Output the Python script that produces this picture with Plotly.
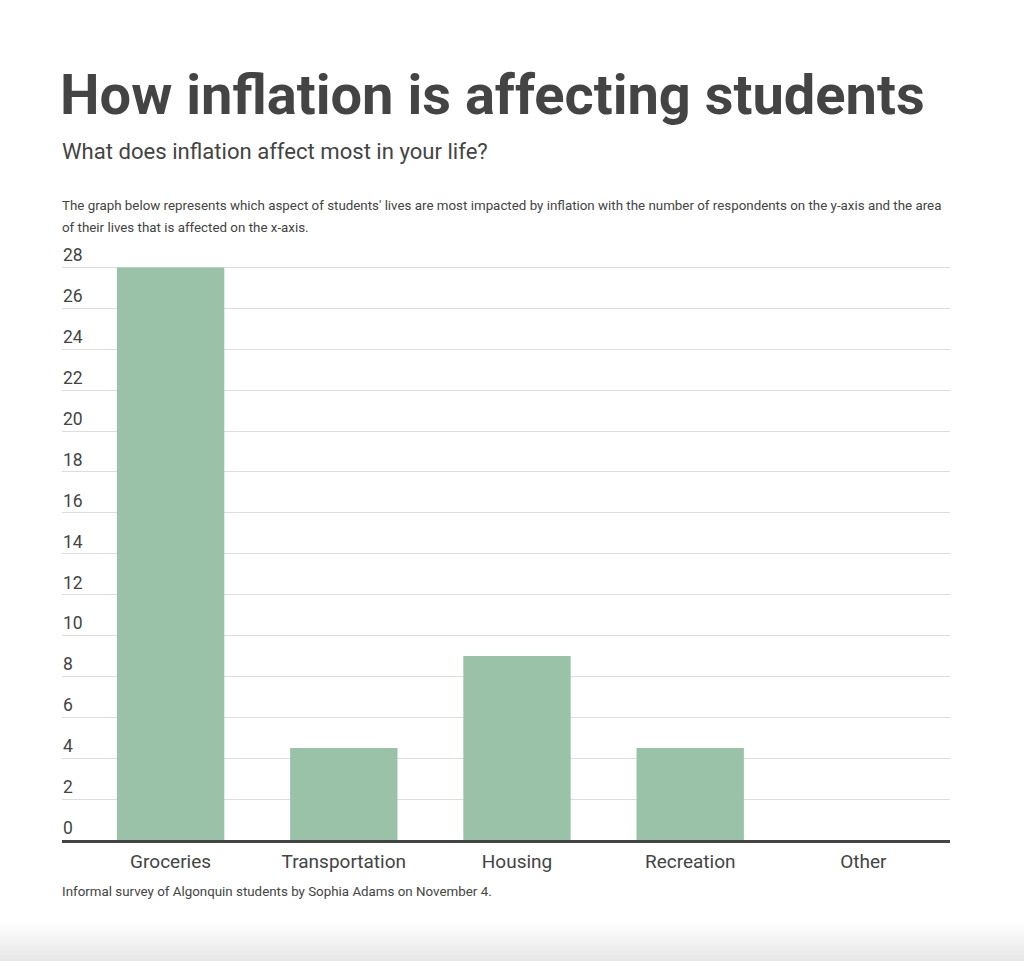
import plotly.graph_objects as go

categories = ["Groceries", "Transportation", "Housing", "Recreation", "Other"]
respondents = [28, 4.5, 9, 4.5, 0]
y_ticks = list(range(0, 30, 2))

title = "How inflation is affecting students"
subtitle = "What does inflation affect most in your life?"
desc1 = "The graph below represents which aspect of students' lives are most impacted by inflation with the number of respondents on the y-axis and the area"
desc2 = "of their lives that is affected on the x-axis."
footer = "Informal survey of Algonquin students by Sophia Adams on November 4."

W, H = 1024, 961
def px(x): return x / W
def py(y): return 1 - y / H

TEXT = "#444444"
FONT = "Roboto"

fig = go.Figure(go.Bar(
    x=categories, y=respondents, width=0.62,
    marker=dict(color="#9AC2A9", line=dict(width=0)),
    hoverinfo="x+y",
))

fig.update_layout(
    width=W, height=H,
    margin=dict(l=0, r=0, t=0, b=0),
    paper_bgcolor="white", plot_bgcolor="white",
    showlegend=False,
    font=dict(family=FONT, color=TEXT),
    xaxis=dict(
        domain=[px(62), px(950)],
        range=[-0.627, 4.5],
        type="category",
        showgrid=False, zeroline=False,
        showline=True, linecolor="#444444", linewidth=3,
        ticks="",
        ticklabelstandoff=2,
        tickfont=dict(size=19, color=TEXT, family=FONT),
        automargin=False,
    ),
    yaxis=dict(
        domain=[py(840), py(243)],
        range=[0, 29.2],
        anchor="free", position=px(59),
        tickvals=y_ticks,
        ticklabelposition="inside top",
        tickfont=dict(size=17.5, color=TEXT, family=FONT),
        showgrid=True, gridcolor="#dddddd", gridwidth=1,
        zeroline=False, showline=False, ticks="",
        automargin=False,
    ),
)

# bottom soft shadow
for i in range(12):
    fig.add_shape(type="rect", xref="paper", yref="paper", x0=0, x1=1,
                  y0=0, y1=(3 + i * 3.2) / H, line=dict(width=0),
                  fillcolor="rgba(0,0,0,0.0075)", layer="below")

def ann(text, x, y, size, weight=400, color=TEXT):
    fig.add_annotation(text=text, xref="paper", yref="paper", x=px(x), y=py(y),
                       xanchor="left", yanchor="middle", showarrow=False,
                       font=dict(family=FONT, size=size, color=color, weight=weight))

ann(title, 58, 95, 56, 700)
ann(subtitle, 60, 151, 22.1, 400)
ann(desc1, 60, 205, 13.35, 400)
ann(desc2, 60, 227, 13.35, 400)
ann(footer, 60, 891, 13.35, 400)

fig.write_html("out.html")
